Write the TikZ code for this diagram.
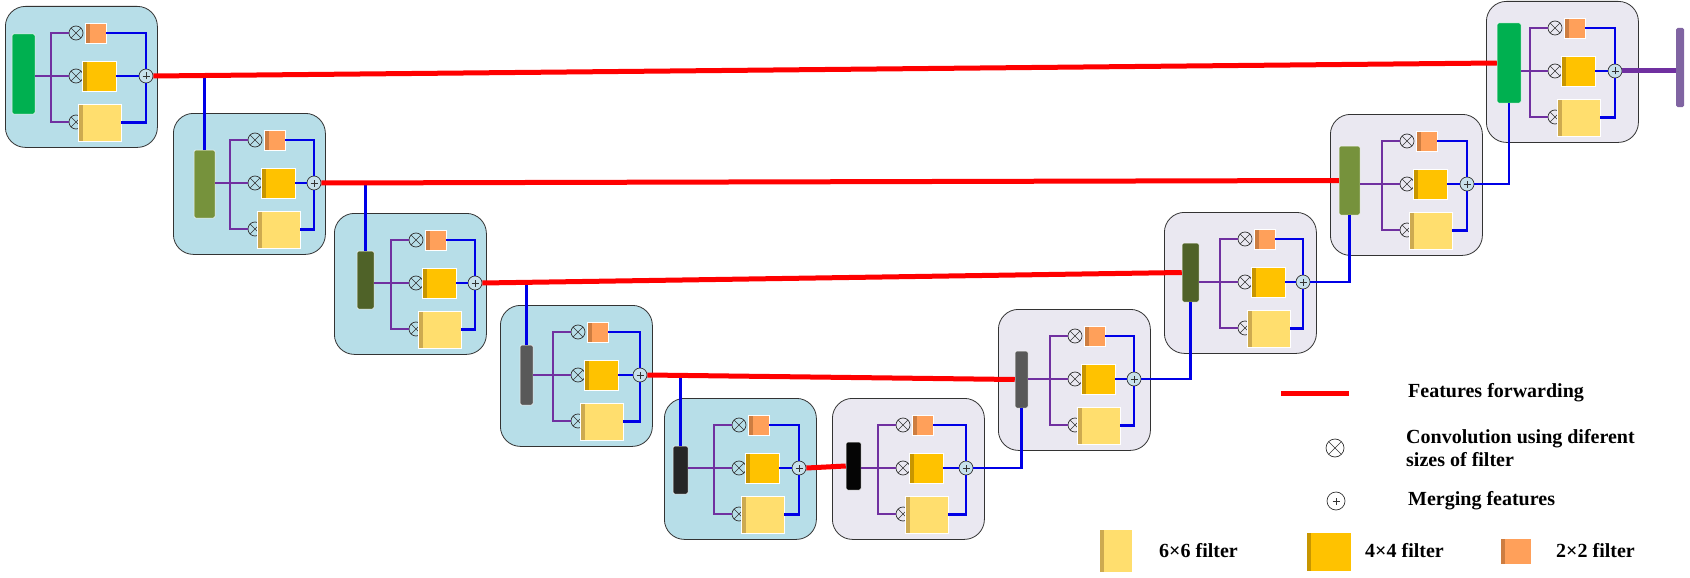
\documentclass[tikz,border=0pt]{standalone}
\usepackage{fontspec}
\setmainfont{Liberation Serif}
\usetikzlibrary{fit,calc}
\definecolor{encF}{RGB}{183,222,232}
\definecolor{decF}{RGB}{234,232,241}
\definecolor{gA}{RGB}{0,176,80}
\definecolor{gB}{RGB}{118,146,60}
\definecolor{gC}{RGB}{79,98,40}
\definecolor{gD}{RGB}{89,89,89}
\definecolor{gE}{RGB}{38,38,38}
\definecolor{gF}{RGB}{5,5,5}
\definecolor{orF}{RGB}{255,160,90}
\definecolor{orD}{RGB}{205,125,65}
\definecolor{mdF}{RGB}{255,194,0}
\definecolor{mdD}{RGB}{200,150,0}
\definecolor{lgF}{RGB}{255,222,110}
\definecolor{lgD}{RGB}{205,170,80}
\definecolor{purp}{RGB}{112,48,160}
\definecolor{outb}{RGB}{128,100,162}
\definecolor{blu}{RGB}{0,0,230}
\definecolor{plusF}{RGB}{200,225,235}
\begin{document}
\begin{tikzpicture}[x=1pt,y=-1pt,
  box/.style={draw=black!80,line width=0.8,rounded corners=20,inner sep=0},
  bar/.style={inner sep=0,rounded corners=1.5,draw=white,line width=0.5},
  fil/.style={inner sep=0,draw=white,line width=0.6,path picture={\fill[#1] (path picture bounding box.north west) rectangle ([xshift=5pt]path picture bounding box.south west);}},
  ot/.style={circle,draw=black!80,line width=0.7,minimum size=#1,inner sep=0,path picture={\draw[black!80,line width=0.6] (path picture bounding box.north west)--(path picture bounding box.south east) (path picture bounding box.north east)--(path picture bounding box.south west);}},
  ot/.default=14,
  op/.style={circle,draw=black!80,line width=0.7,minimum size=#1,inner sep=0,path picture={\draw[black!80,line width=0.5] ([xshift=-3.5pt]path picture bounding box.center)--([xshift=3.5pt]path picture bounding box.center) ([yshift=-3.5pt]path picture bounding box.center)--([yshift=3.5pt]path picture bounding box.center);}},
  op/.default=14,
  pl/.style={draw=purp,line width=2.3},
  bl/.style={draw=blu,line width=2.8},
  rl/.style={draw=red,line width=5},
  lt/.style={font=\bfseries\fontsize{20}{23}\selectfont,anchor=west,inner sep=0,align=left}]
\useasboundingbox (0,0) rectangle (1690,578);
\foreach \n/\x/\y/\f/\c/\bl/\br/\bt/\bb/\g/\p in {
  B1/5/6/encF/gA/7/30/28/108/71/141,
  B2/173/113/encF/gB/21/42/37/105/82/141,
  B3/334/213/encF/gC/23/40/38/96/82/141,
  B4/500/305/encF/gD/20/33/40/100/78/140,
  B5/664/398/encF/gE/9/24/48/96/75/135,
  D5/832/398/decF/gF/14/29/44/92/71/134,
  D4/998/309/decF/gD/17/30/42/99/77/136,
  D3/1164/212/decF/gC/18/35/31/90/81/139,
  D2/1330/114/decF/gB/9/30/32/101/77/137,
  D1/1486/1/decF/gA/11/35/22/102/69/129}{
  \node[box,fill=\f,minimum width=152,minimum height=141,anchor=north west] (\n) at (\x,\y) {};
  \node[bar,fill=\c,fit={(\x+\bl,\y+\bt)(\x+\br,\y+\bb)}] (\n bar) {};
  \node[ot] (\n o1) at (\x+\g,\y+27) {};
  \node[ot] (\n o2) at (\x+\g,\y+70) {};
  \node[ot] (\n o3) at (\x+\g,\y+116) {};
  \node[fil=orD,fill=orF,fit={(\x+\g+9,\y+17)(\x+\g+30,\y+37)}] (\n f1) {};
  \node[fil=mdD,fill=mdF,fit={(\x+\g+6,\y+55)(\x+\g+40,\y+85)}] (\n f2) {};
  \node[fil=lgD,fill=lgF,fit={(\x+\g+2,\y+98)(\x+\g+45,\y+135)}] (\n f3) {};
  \node[op,fill=plusF] (\n p) at (\x+\p,\y+70) {};
  \coordinate (\n t) at (\x+\g-25,\y+70);
  \draw[pl] (\n bar.east |- \n t) -- (\n t) -- (\n o2.west);
  \draw[pl] (\n o1.west) -| (\n t) |- (\n o3.west);
  \draw[bl] (\n f1.east) -| (\n p.north);
  \draw[bl] (\n f2.east) -- (\n p.west);
  \draw[bl] (\n f3.east) -| (\n p.south);
}
% encoder drops
\draw[bl] (B2bar.north |- B1p) -- (B2bar.north);
\draw[bl] (B3bar.north |- B2p) -- (B3bar.north);
\draw[bl] (B4bar.north |- B3p) -- (B4bar.north);
\draw[bl] (B5bar.north |- B4p) -- (B5bar.north);
% decoder rises
\draw[bl] (D5p.east) -| (D4bar.south);
\draw[bl] (D4p.east) -| (D3bar.south);
\draw[bl] (D3p.east) -| (D2bar.south);
\draw[bl] (D2p.east) -| (D1bar.south);
% skip connections
\draw[rl] (B1p.east) -- (D1bar.west);
\draw[rl] (B2p.east) -- (D2bar.west);
\draw[rl] (B3p.east) -- (D3bar.west);
\draw[rl] (B4p.east) -- (D4bar.west);
\draw[rl] (B5p.east) -- (D5bar.west);
% output
\node[inner sep=0,rounded corners=1.5,fill=outb,fit={(1676,28)(1684,107)}] (out) {};
\draw[draw=purp,line width=5] (D1p.east) -- (D1p.east -| out.west);
% legend
\coordinate (lr1) at (1281,393);
\coordinate (lr2) at (1349,393);
\draw[rl] (lr1) -- (lr2);
\node[lt] (t1) at (1408,393) {Features forwarding};
\node[ot=18] (lo) at (1335,448) {};
\node[lt] (t2) at (1406,448) {Convolution using diferent\\sizes of filter};
\node[op=18] (lp) at (1336,501) {};
\node[lt] (t3) at (1408,501) {Merging features};
\node[fil=lgD,fill=lgF,fit={(1099,529)(1132,572)}] (c6) {};
\node[lt] (t6) at (1159,551) {6×6 filter};
\node[fil=mdD,fill=mdF,fit={(1306,532)(1351,571)}] (c4) {};
\node[lt] (t4) at (1365,551) {4×4 filter};
\node[fil=orD,fill=orF,fit={(1500,538)(1531,564)}] (c2) {};
\node[lt] (t2b) at (1556,551) {2×2 filter};
\end{tikzpicture}
\end{document}
